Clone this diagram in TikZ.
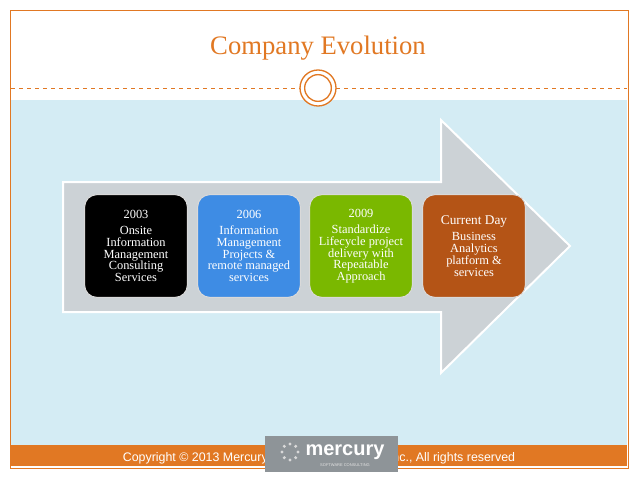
\documentclass[tikz,border=0pt]{standalone}
\usepackage{fontspec}
\setmainfont{Liberation Serif}
\newfontfamily\arialf{Liberation Sans}
\begin{document}
\begin{tikzpicture}[x=0.75pt,y=-0.75pt,
  stage/.style={rounded corners=9pt,minimum width=77pt,minimum height=77pt,align=center,text=white,font=\fontsize{9.3}{9.3}\selectfont,draw=white!70!gray,line width=0.8pt}]
\definecolor{orng}{RGB}{225,120,35}
\definecolor{skyb}{RGB}{212,236,244}
\definecolor{arrg}{RGB}{204,210,214}
\useasboundingbox (0,0) rectangle (638,478);
\fill[white] (0,0) rectangle (638,478);
\draw[orng,line width=0.6pt] (10,10) rectangle (628,468);
\fill[skyb] (11,100) rectangle (627,445);
\fill[orng] (11,445) rectangle (627,466);
\node[text=orng,font=\fontsize{20}{24}\selectfont] (title) at (318,48) {Company Evolution};
\draw[orng,dashed,line width=0.5pt] (11,88) -- (300,88);
\draw[orng,dashed,line width=0.5pt] (336,88) -- (627,88);
\node[circle,draw=orng,line width=1pt,minimum size=27pt,fill=white] (c) at (318,88) {};
\node[circle,draw=orng,line width=1pt,minimum size=20pt] at (c) {};
\draw[white,line width=1.5pt,fill=arrg] (63,182) -- (441,182) -- (441,120) -- (570,246) -- (441,373) -- (441,312) -- (63,312) -- cycle;
\node[stage,fill=black] (s1) at (136,246) {2003\\[3pt]Onsite\\[-0.5pt]Information\\[-0.5pt]Management\\[-0.5pt]Consulting\\[-0.5pt]Services};
\node[stage,fill={rgb,255:red,62;green,140;blue,228}] (s2) at (249,246) {2006\\[3pt]Information\\[-0.5pt]Management\\[-0.5pt]Projects \&\\[-0.5pt]remote managed\\[-0.5pt]services};
\node[stage,fill={rgb,255:red,122;green,184;blue,0}] (s3) at (361,246) {2009\\[3pt]Standardize\\[-0.5pt]Lifecycle project\\[-0.5pt]delivery with\\[-0.5pt]Repeatable\\[-0.5pt]Approach};
\node[stage,fill={rgb,255:red,180;green,84;blue,22}] (s4) at (474,246) {\fontsize{10}{10}\selectfont Current Day\\[3pt]Business\\[-0.5pt]Analytics\\[-0.5pt]platform \&\\[-0.5pt]services};
\node[text=white,font=\arialf\fontsize{9.3}{11}\selectfont] (copy) at (319,458) {Copyright © 2013 Mercury Software Consulting, Inc., All rights reserved};
\fill[gray!80!cyan!40!gray] (265,436) rectangle (398,472);
\node[text=white,font=\arialf\bfseries\fontsize{15}{15}\selectfont] (logo) at (345,452) {mercury};
\node[text=white!80!gray,font=\arialf\fontsize{3}{3}\selectfont] at (345,465) {SOFTWARE CONSULTING};
\foreach \a in {0,45,...,315} \fill[white!70!gray] (290,452) ++(\a:6pt) circle (1.3pt);
\end{tikzpicture}
\end{document}
